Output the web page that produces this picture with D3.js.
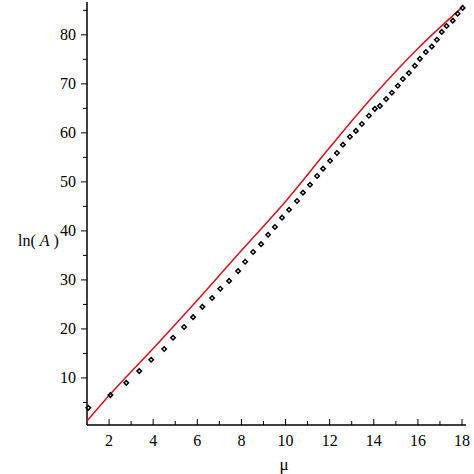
<!DOCTYPE html><html><head><meta charset="utf-8"><script src="https://cdn.jsdelivr.net/npm/d3@7"></script>
<style>body{margin:0;background:#fff}text{font-family:"Liberation Serif",serif}</style></head><body><svg id="c" width="474" height="474"></svg><script>
const redX=[1,2,4,6.05,8,10,12,14,16,18];
const redY=[1.2,6.4,16,26.1,36,46,57,67.6,77.2,85.6];
const ptX=[1.06,2.06,2.78,3.37,3.91,4.5,4.9,5.4,5.81,6.23,6.67,7.04,7.44,7.85,8.17,8.53,8.89,9.21,9.52,9.84,10.16,10.52,10.79,11.11,11.43,11.70,12.02,12.33,12.60,12.92,13.19,13.46,13.78,14.05,14.28,14.56,14.82,15.09,15.32,15.59,15.86,16.09,16.36,16.63,16.86,17.08,17.3,17.58,17.8,18.03];
const ptY=[3.9,6.5,9.0,11.4,13.7,15.9,18.2,20.4,22.4,24.5,26.3,28.2,29.8,31.8,33.7,35.7,37.3,39.2,40.8,42.7,44.3,46.1,47.8,49.4,51.2,52.7,54.3,55.9,57.6,59.2,60.4,61.8,63.5,64.9,65.5,66.9,68.2,69.6,71.0,72.2,73.7,75.1,76.5,77.6,79.0,80.6,81.8,82.9,84.3,85.5];
const xTicks=[2,4,6,8,10,12,14,16,18];
const yTicks=[10,20,30,40,50,60,70,80];
const svg=d3.select("#c");
const x=d3.scaleLinear().domain([1,18]).range([87,462]);
const y=d3.scaleLinear().domain([0.4,86.7]).range([425,2]);
const g=svg.append("g");
g.append("line").attr("x1",87).attr("x2",87).attr("y1",2).attr("y2",425).attr("stroke","#000").attr("stroke-width",1.5);
g.append("line").attr("x1",87).attr("x2",466).attr("y1",425).attr("y2",425).attr("stroke","#000").attr("stroke-width",1.5);
d3.range(2,19,1).forEach(v=>{g.append("line").attr("x1",x(v)).attr("x2",x(v)).attr("y1",425).attr("y2",v%2==0?419:421).attr("stroke","#000");});
d3.range(5,86,5).forEach(v=>{g.append("line").attr("x1",87).attr("x2",v%10==0?81:83).attr("y1",y(v)).attr("y2",y(v)).attr("stroke","#000");});
xTicks.forEach(v=>g.append("text").attr("x",x(v)).attr("y",446).attr("text-anchor","middle").attr("font-size",16).text(v));
yTicks.forEach(v=>g.append("text").attr("x",76).attr("y",y(v)+5).attr("text-anchor","end").attr("font-size",16).text(v));
const yl=g.append("text").attr("x",18).attr("y",246).attr("font-size",16);
yl.append("tspan").text("ln( ");yl.append("tspan").attr("font-style","italic").text("A");yl.append("tspan").text(" )");
g.append("text").attr("x",284).attr("y",470).attr("text-anchor","middle").attr("font-size",17).text("μ");
g.append("path").datum(redX.map((d,i)=>[d,redY[i]])).attr("fill","none").attr("stroke","#d0141c").attr("stroke-width",1.5)
 .attr("d",d3.line().x(d=>x(d[0])).y(d=>y(d[1])).curve(d3.curveMonotoneX));
g.selectAll(".p").data(ptX.map((d,i)=>[d,ptY[i]])).join("path").attr("fill","none").attr("stroke","#000").attr("stroke-width",1.5)
 .attr("transform",d=>`translate(${x(d[0])},${y(d[1])}) rotate(45)`).attr("d",d3.symbol(d3.symbolSquare,10));
</script></body></html>
